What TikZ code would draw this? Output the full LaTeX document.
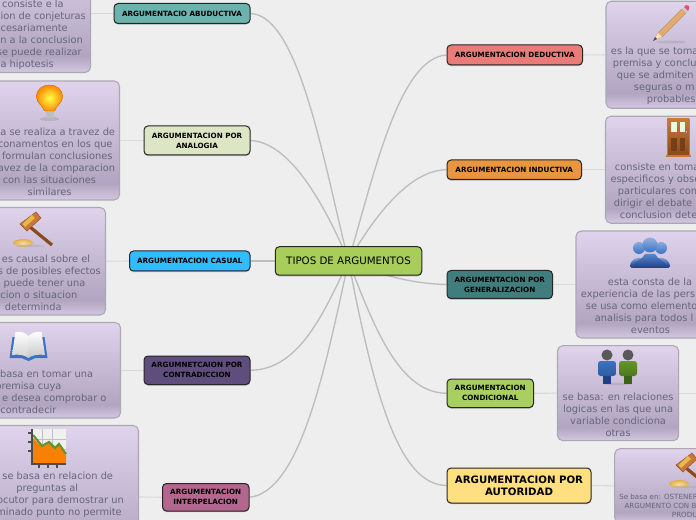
\documentclass[tikz,border=0pt]{standalone}
\usepackage{fontspec}
\setmainfont{DejaVu Sans}
\usetikzlibrary{backgrounds,shadows}
\newlength{\pxu}
\setlength{\pxu}{.75pt}
\definecolor{fondo}{HTML}{EEEEEE}
\definecolor{linea}{HTML}{BDBDBD}
\definecolor{lineafina}{HTML}{D9D9D9}
\definecolor{gristexto}{HTML}{666678}
\definecolor{cajaborde}{HTML}{ABA8B4}
\definecolor{cajaclaro}{HTML}{E0D3EC}
\definecolor{cajaoscuro}{HTML}{B1A5C1}
\definecolor{cajaluz}{HTML}{D3C8E1}
\definecolor{verdetema}{HTML}{A8CD5A}
\definecolor{madera}{HTML}{8A4A1C}
\definecolor{maderaclara}{HTML}{C9783A}
\definecolor{oro}{HTML}{E8B84C}
\definecolor{tostado}{HTML}{E3AC6C}
\definecolor{azulicono}{HTML}{3A72C4}
\definecolor{azuloscuro}{HTML}{1E3F8A}
\definecolor{verdeicono}{HTML}{64952A}
\definecolor{verdeoscuro}{HTML}{3C6414}
\pgfdeclareverticalshading{cajafondo}{100bp}{color(0bp)=(cajaluz); color(25bp)=(cajaluz); color(32bp)=(cajaoscuro); color(75bp)=(cajaclaro); color(100bp)=(cajaclaro)}
\newcommand{\corre}[1]{\leavevmode\kern#1\pxu\relax}
\tikzset{
  tam/.style 2 args={minimum width=#1\pxu,minimum height=#2\pxu},
  tema/.style={draw=black!85,line width=.75pt,rounded corners=3pt,inner sep=0pt,align=center,
    font=\bfseries\fontsize{5.4}{7.6}\selectfont,drop shadow={shadow xshift=0pt,shadow yshift=-.8pt,fill=black,opacity=.25}},
  caja/.style={draw=cajaborde,line width=.8pt,rounded corners=4pt,shading=cajafondo,inner sep=0pt},
  texto/.style={inner sep=0pt,text=gristexto,font=\fontsize{7.37}{9}\selectfont},
  ramal/.style={draw=linea,line width=1pt},
  fino/.style={draw=lineafina,line width=.8pt},
  bombilla/.pic={
    \fill[black!40,opacity=.4] (0,16) ellipse (10 and 2);
    \fill[black!25] (-4,8) rectangle (4,15);
    \shade[inner color=yellow!70!white,outer color=orange!90!yellow,draw=orange!80!black,line width=.3pt]
      (-5,8) .. controls (-7,2) and (-13,0) .. (-13,-6) .. controls (-13,-14) and (-7,-18) .. (0,-18)
      .. controls (7,-18) and (13,-14) .. (13,-6) .. controls (13,0) and (7,2) .. (5,8) -- cycle;
  },
  mazo/.pic={
    \shade[inner color=oro!50!white,outer color=oro!85!brown] (-10,13) ellipse (10 and 4);
    \fill[black!35,opacity=.4] (-2,16) ellipse (14 and 1.2);
    \draw[line width=2.4pt,madera] (-3,-3) -- (19,15);
    \fill[maderaclara,draw=madera,line width=.3pt] (3,-18) -- (8,-12) -- (-6,1) -- (-13,-6) -- cycle;
    \fill[oro] (-1,-15) -- (2,-12) -- (-8,-3) -- (-10.5,-6) -- cycle;
  },
  libro/.pic={
    \fill[azulicono] (-19,11) -- (-16,-10) -- (16,-10) -- (19,11) -- (7,11) -- (0,14) -- (-7,11) -- cycle;
    \shade[top color=white,bottom color=black!18] (-16.5,8) -- (-13,-15) .. controls (-8,-16) and (-3,-14) .. (0,-11) -- (0,11) .. controls (-4,8) and (-10,7) .. (-16.5,8) -- cycle;
    \shade[top color=white,bottom color=black!22] (16.5,8) -- (13,-15) .. controls (8,-16) and (3,-14) .. (0,-11) -- (0,11) .. controls (4,8) and (10,7) .. (16.5,8) -- cycle;
  },
  grafica/.pic={
    \fill[white!94!black] (-15,-18) rectangle (19,17);
    \draw[black!25,line width=.3pt] (-5,-18) -- (-5,17) (5,-18) -- (5,17) (-15,-8) -- (19,-8) (-15,2) -- (19,2);
    \fill[orange!90!brown] (-15,-10) -- (-5,0) -- (2,-4) -- (8,2) -- (12,-2) -- (19,8) -- (19,17) -- (-15,17) -- cycle;
    \draw[verdeicono,line width=1.6pt] (-14,-12) -- (-5,-1) -- (2,-5) -- (8,1) -- (12,-3) -- (19,7);
    \draw[black!70,line width=1.2pt] (-15,-18) -- (-15,17) -- (19,17);
    \draw[black!70,line width=1pt] (-19,-14) -- (-15,-14) (-19,-5) -- (-15,-5) (-19,4) -- (-15,4) (-8,17) -- (-8,21) (1,17) -- (1,21) (10,17) -- (10,21);
  },
  lapiz/.pic={
    \fill[black!40,opacity=.35] (0,18) ellipse (15 and 1.5);
    \fill[tostado,draw=madera!60,line width=.3pt] (-17,16) -- (-13,9) -- (11,-15) -- (15,-11) -- (-9,13) -- cycle;
    \fill[white!75!orange] (-17,16) -- (-13,9) -- (-9,13) -- cycle;
    \fill[black!70] (-18,17) -- (-16,13) -- (-14,15) -- cycle;
    \fill[black!20] (11,-15) -- (13,-17) -- (17,-13) -- (15,-11) -- cycle;
    \fill[red!55!purple!70!white] (13,-17) -- (15,-19) -- (18,-18) -- (18,-15) -- (17,-13) -- cycle;
  },
  puerta/.pic={
    \shade[top color=maderaclara,bottom color=madera,draw=maderaclara,line width=.5pt] (-11,-19) rectangle (11,17);
    \fill[maderaclara] (-12.5,17) rectangle (12.5,19);
    \fill[white!90!green] (-7,-16) rectangle (-1.5,-6);
    \fill[white!90!green] (1.5,-16) rectangle (7,-6);
    \fill[madera!85!black] (-7,0) rectangle (-1.5,13);
    \fill[madera!85!black] (1.5,0) rectangle (7,13);
    \fill[black!30] (8,-7) rectangle (9,-5);
  },
  grupo/.pic={
    \foreach \cx in {-11,11} {
      \shade[top color=azulicono!60!white,bottom color=azulicono] (\cx,-5) circle (6);
      \shade[top color=azulicono!70!white,bottom color=azuloscuro] (\cx-9,14) .. controls (\cx-9,7) and (\cx-3,5) .. (\cx,5) .. controls (\cx+3,5) and (\cx+9,7) .. (\cx+9,14) -- cycle;
    }
    \shade[top color=azulicono!55!white,bottom color=azulicono] (0,-8) circle (7.5);
    \shade[top color=azulicono!85!white,bottom color=azuloscuro] (-19,15) .. controls (-17,8) and (-7,7) .. (-5,1) -- (5,1) .. controls (7,7) and (17,8) .. (19,15) -- cycle;
  },
  parejas/.pic={
    \fill[black!40,opacity=.4] (0,17) ellipse (14 and 1.2);
    \fill[black!65] (-11,-12) circle (5.5);
    \fill[black!65] (10,-12) circle (5.5);
    \shade[top color=azulicono,bottom color=azulicono!80!black,rounded corners=2pt] (-20,-6) rectangle (-2,9);
    \fill[azuloscuro] (-15,9) rectangle (-7,17);
    \shade[top color=verdeicono,bottom color=verdeicono!80!black,rounded corners=2pt] (1,-6) rectangle (19,9);
    \fill[verdeoscuro] (6,9) rectangle (14,17);
  },
}
\begin{document}
\begin{tikzpicture}[x=.75pt,y=-.75pt]
\useasboundingbox (0,0) rectangle (696,520);

\node[tema,tam={146.5}{28.5},fill=verdetema,font=\fontsize{7.7}{9}\selectfont] (tipos) at (348.5,261) {TIPOS DE ARGUMENTOS};

\node[tema,tam={136}{20},fill={rgb,255:red,108;green,178;blue,174}] (abductiva) at (182,13.5) {ARGUMENTACIO ABUDUCTIVA};
\node[tema,tam={106}{29},fill={rgb,255:red,220;green,230;blue,196}] (analogia) at (197,140.5) {ARGUMENTACION POR\\ANALOGIA};
\node[tema,tam={120.5}{20},fill={rgb,255:red,51;green,187;blue,255}] (casual) at (189.75,261) {ARGUMENTACION CASUAL};
\node[tema,tam={106}{28.5},fill={rgb,255:red,95;green,77;blue,126}] (contradiccion) at (197,370.25) {ARGUMNETCAION POR\\CONTRADICCION};
\node[tema,tam={86.5}{27.5},fill={rgb,255:red,179;green,103;blue,143}] (interpelacion) at (205.75,497.25) {ARGUMENTACION\\INTERPELACION};

\node[tema,tam={135.5}{20},fill={rgb,255:red,233;green,124;blue,120}] (deductiva) at (514.75,55) {ARGUMENTACION DEDUCTIVA};
\node[tema,tam={134.5}{19.5},fill={rgb,255:red,232;green,150;blue,63}] (inductiva) at (514.25,169.75) {ARGUMENTACION INDUCTIVA};
\node[tema,tam={105.5}{28},fill={rgb,255:red,65;green,125;blue,125}] (generalizacion) at (499.75,284.5) {ARGUMENTACION POR\\GENERALIZACION};
\node[tema,tam={86.5}{28.5},fill={rgb,255:red,168;green,207;blue,95}] (condicional) at (490.25,393.25) {ARGUMENTACION\\CONDICIONAL};
\node[tema,tam={144}{35},fill={rgb,255:red,255;green,223;blue,127},font=\bfseries\fontsize{7.65}{9}\selectfont] (autoridad) at (519,485.5) {ARGUMENTACION POR\\AUTORIDAD};

\node[caja,tam={130.5}{118}] (cajaabd) at (25.25,13.5) {};
\node[caja,tam={139.5}{119}] (cajaana) at (49.75,140.5) {};
\node[caja,tam={125.5}{107.5}] (cajacas) at (42.75,261.25) {};
\node[caja,tam={140.5}{95.5}] (cajacon) at (50.25,370.25) {};
\node[caja,tam={158.5}{143}] (cajaint) at (59.25,497) {};
\node[caja,tam={134}{107}] (cajaded) at (673,54.75) {};
\node[caja,tam={134.5}{107}] (cajaind) at (672.75,169.75) {};
\node[caja,tam={164}{107}] (cajagen) at (658,284.5) {};
\node[caja,tam={121.2}{95}] (cajacond) at (618.1,393.2) {};
\node[caja,tam={145.3}{74.3}] (cajaaut) at (687.35,485.85) {};
\coordinate (fueracond) at (696,393.2);

\node[texto,anchor=east,align=right] (txtabd) at (86,35) {consiste e la\corre{22}\\ion de conjeturas\\ecesariamente\corre{18}\\n a la conclusion\corre{3}\\se puede realizar\corre{4}\\a hipotesis\corre{32}};
\node[texto,anchor=east,align=right] (txtana) at (115.3,161.5) {a se realiza a travez de\\conamentos en los que\corre{2.5}\\formulan conclusiones\corre{2.5}\\avez de la comparacion\\con las situaciones\corre{19}\\similares\corre{43.5}};
\node[texto,anchor=east,align=right] (txtcas) at (101,282.8) {es causal sobre el\corre{10.7}\\s de posibles efectos\\puede tener una\corre{15.3}\\cion o situacion\corre{23.3}\\determinda\corre{39}};
\node[texto,anchor=east,align=right] (txtcon) at (106.7,391.8) {basa en tomar una\corre{13.4}\\premisa cuya\corre{45}\\e desea comprobar o\\contradecir\corre{50}};
\node[texto,anchor=east,align=right] (txtint) at (124,495.2) {se basa en relacion de\corre{10.7}\\preguntas al\corre{45.7}\\ocutor para demostrar un\\minado punto no permite\corre{2}};
\node[texto,anchor=west,align=left] (txtded) at (610.7,76.2) {es la que se toma\\\corre{2}premisa y conclu\\\corre{6}que se admiten\\\corre{23}seguras o m\\\corre{36}probables};
\node[texto,anchor=west,align=left] (txtind) at (610.3,190.5) {\corre{4.4}consiste en toma\\especificos y obse\\\corre{7.4}particulares con\\\corre{3.4}dirigir el debate\\\corre{9.4}conclusion dete};
\node[texto,anchor=west,align=left] (txtgen) at (580.7,306.2) {\corre{27}esta consta de la\\experiencia de las pers\\\corre{5}se usa como elemento\\\corre{14}analisis para todos l\\\corre{50}eventos};
\node[texto,align=center] (txtcond) at (618.1,414.8) {se basa: en relaciones\\logicas en las que una\\variable condiciona\\otras};
\node[texto,anchor=west,align=left,font=\fontsize{5.35}{6.75}\selectfont] (txtaut) at (619,506.3) {Se basa en: OSTENER\\\corre{5.3}ARGUMENTO CON B\\\corre{52.7}PRODU};

\pic at (49.5,103) {bombilla};
\pic at (33,230) {mazo};
\pic at (28.5,347) {libro};
\pic at (47,447) {grafica};
\pic at (671,24) {lapiz};
\pic at (678,138) {puerta};
\pic at (650,253) {grupo};
\pic at (618,367) {parejas};
\pic at (689,471) {mazo};

\begin{scope}[on background layer]
\fill[fondo] (0,0) rectangle (696,520);
\draw[ramal] (tipos.center) .. controls (325,170) and (300,15) .. (abductiva.east);
\draw[ramal] (tipos.center) .. controls (325,205) and (290,142) .. (analogia.east);
\draw[ramal] (tipos.center) -- (casual.east);
\draw[ramal] (tipos.center) .. controls (325,310) and (300,370) .. (contradiccion.east);
\draw[ramal] (tipos.center) .. controls (325,370) and (300,492) .. (interpelacion.east);
\draw[ramal] (tipos.center) .. controls (375,170) and (400,58) .. (deductiva.west);
\draw[ramal] (tipos.center) .. controls (375,215) and (410,170) .. (inductiva.west);
\draw[ramal] (tipos.center) .. controls (385,278) and (420,284) .. (generalizacion.west);
\draw[ramal] (tipos.center) .. controls (375,330) and (400,393) .. (condicional.west);
\draw[ramal] (tipos.center) .. controls (375,400) and (400,485) .. (autoridad.west);
\draw[fino] (abductiva.west) -- (cajaabd.east);
\draw[fino] (analogia.west) -- (cajaana.east);
\draw[fino] (casual.west) -- (cajacas.east);
\draw[fino] (contradiccion.west) -- (cajacon.east);
\draw[fino] (interpelacion.west) -- (cajaint.east);
\draw[fino] (deductiva.east) -- (cajaded.west);
\draw[fino] (inductiva.east) -- (cajaind.west);
\draw[fino] (generalizacion.east) -- (cajagen.west);
\draw[fino] (condicional.east) -- (cajacond.west);
\draw[fino] (autoridad.east) -- (cajaaut.west);
\draw[fino] (cajacond.east) -- (fueracond);
\end{scope}
\end{tikzpicture}
\end{document}
